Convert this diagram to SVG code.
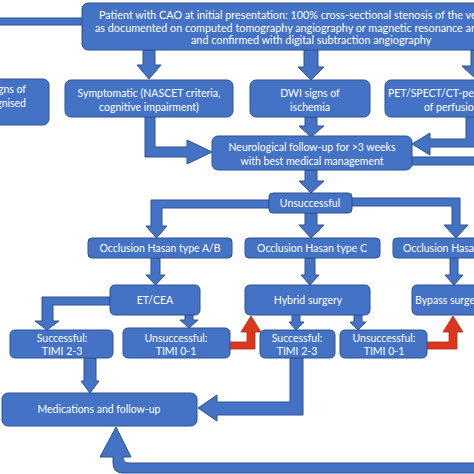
<svg xmlns="http://www.w3.org/2000/svg" width="474" height="474" viewBox="0 0 474 474">
<style>
.box{fill:#4472C4;stroke:#2F528F;stroke-width:1}
.arr{fill:#4472C4;stroke:#2F528F;stroke-width:1}
.red{fill:#D9381E;stroke:#B02A14;stroke-width:0.8}
text{font-family:Lato,"Liberation Sans",sans-serif;font-size:10.5px;fill:#FFFFFF}
.c{text-anchor:middle}
.t{font-size:10.8px}
</style>
<rect width="474" height="474" fill="#FFFFFF"/>
<g id="connectors">
<rect class="arr" x="-5" y="18" width="88" height="7"/>
<polygon class="arr" points="143,50 155,50 155,65 161,65 149,79 137,65 143,65"/>
<polygon class="arr" points="304,50 318,50 318,67 324,67 311,80 298,67 304,67"/>
<polygon class="arr" points="471,50 483,50 483,66 492,66 477,80 462,66 471,66"/>
<polygon class="arr" points="480,115 466,115 466,139 430,139 430,133 412,144 430,155 430,147 480,147"/>
<rect class="arr" x="412" y="157" width="70" height="8"/>
<polygon class="arr" points="145,117 155,117 155,147 187,147 187,140 212,152 187,164 187,157 145,157"/>
<polygon class="arr" points="305,117 317,117 317,126 324,126 311,137 299,126 305,126"/>
<polygon class="arr" points="305,170 317,170 317,181 324,181 311,193 299,181 305,181"/>
<polygon class="arr" points="269,200 151,200 151,226 146,226 156.5,238 167,226 162,226 162,208 269,208"/>
<polygon class="arr" points="352,198 460,198 460,225 468,225 456,238 444,225 452,225 452,206 352,206"/>
<polygon class="arr" points="305,213 317,213 317,225 324,225 311,238 299,225 305,225"/>
<polygon class="arr" points="151,258 160,258 160,275 165,275 155.5,285 146,275 151,275"/>
<polygon class="arr" points="305,258 315,258 315,275 319,275 310,285 301,275 305,275"/>
<polygon class="arr" points="450,258 458,258 458,275 463,275 454,285 445,275 450,275"/>
<polygon class="arr" points="110,297 42,297 42,321 35,321 47,330 59,321 53,321 53,305 110,305"/>
<polygon class="arr" points="185,315 193,315 193,320 198,320 189,328 180,320 185,320"/>
<polygon class="arr" points="292,315 300,315 300,322 304,322 296,330 289,322 292,322"/>
<polygon class="arr" points="354,315 362,315 362,322 366,322 358,330 350,322 354,322"/>
<polygon class="red" points="230,342 247,342 247,332 241,332 251,316 261,332 255,332 255,349 230,349"/>
<polygon class="red" points="427,342 449,342 449,332 443,332 453,316 463,332 457,332 457,349 427,349"/>
<polygon class="arr" points="84,358 96,358 96,381 99,381 90,393 81,381 84,381"/>
<polygon class="arr" points="290,358 303,358 303,415 217,415 217,421 198,408 217,395 217,402 290,402"/>
<path class="arr" d="M480,463 L129,463 Q123,463 123,457 L131,457 L116,427 L100,457 L113,457 L113,463 Q113,473 123,473 L480,473 Z"/>
</g>
<g id="n-top"><rect class="box" x="82" y="3" width="470" height="47" rx="6"/>
<text class="t" x="99" y="19">Patient with CAO at initial presentation: 100% cross-sectional stenosis of the vessel</text>
<text class="t" x="95" y="31.5">as documented on computed tomography angiography or magnetic resonance angiography</text>
<text class="t" x="191" y="44">and confirmed with digital subtraction angiography</text></g>
<g id="n-left"><rect class="box" x="-60" y="79" width="109" height="46" rx="6"/>
<text x="26" y="93" text-anchor="end">signs of</text>
<text x="26" y="107" text-anchor="end">recognised</text></g>
<g id="n-symptomatic"><rect class="box" x="65" y="80" width="168" height="37" rx="6"/>
<text class="c" x="149" y="97">Symptomatic (NASCET criteria,</text>
<text class="c" x="149" y="111">cognitive impairment)</text></g>
<g id="n-dwi"><rect class="box" x="250" y="80" width="120" height="37" rx="6"/>
<text class="c" x="310" y="97">DWI signs of</text>
<text class="c" x="310" y="111">ischemia</text></g>
<g id="n-pet"><rect class="box" x="385" y="80" width="150" height="37" rx="6"/>
<text x="388" y="97">PET/SPECT/CT-perfusion</text>
<text x="424" y="111">of perfusion</text></g>
<g id="n-neuro"><rect class="box" x="212" y="136" width="200" height="34" rx="6"/>
<text class="c" x="312" y="151">Neurological follow-up for &gt;3 weeks</text>
<text class="c" x="312" y="165">with best medical management</text></g>
<g id="n-unsuccessful"><rect class="box" x="269" y="193" width="83" height="20" rx="4"/>
<text class="c" x="310" y="207">Unsuccessful</text></g>
<g id="n-ab"><rect class="box" x="88" y="238" width="144" height="20" rx="4"/>
<text class="c" x="160" y="252">Occlusion Hasan type A/B</text></g>
<g id="n-c"><rect class="box" x="245" y="238" width="135" height="20" rx="4"/>
<text class="c" x="312" y="252">Occlusion Hasan type C</text></g>
<g id="n-d"><rect class="box" x="393" y="238" width="120" height="20" rx="4"/>
<text x="403" y="252">Occlusion Hasan type D</text></g>
<g id="n-etcea"><rect class="box" x="110" y="285" width="90" height="30" rx="5"/>
<text class="c" x="155" y="304">ET/CEA</text></g>
<g id="n-hybrid"><rect class="box" x="245" y="285" width="125" height="30" rx="5"/>
<text class="c" x="308" y="304">Hybrid surgery</text></g>
<g id="n-bypass"><rect class="box" x="412" y="285" width="100" height="30" rx="5"/>
<text x="415" y="304">Bypass surgery</text></g>
<g id="n-succ1"><rect class="box" x="10" y="330" width="103" height="28" rx="5"/>
<text class="c" x="62" y="342">Successful:</text>
<text class="c" x="62" y="355">TIMI 2-3</text></g>
<g id="n-uns1"><rect class="box" x="123" y="328" width="107" height="30" rx="5"/>
<text class="c" x="176" y="342">Unsuccessful:</text>
<text class="c" x="176" y="355">TIMI 0-1</text></g>
<g id="n-succ2"><rect class="box" x="260" y="330" width="75" height="28" rx="5"/>
<text class="c" x="297" y="342">Successful:</text>
<text class="c" x="297" y="355">TIMI 2-3</text></g>
<g id="n-uns2"><rect class="box" x="340" y="330" width="87" height="28" rx="5"/>
<text class="c" x="384" y="342">Unsuccessful:</text>
<text class="c" x="384" y="355">TIMI 0-1</text></g>
<g id="n-meds"><rect class="box" x="2" y="393" width="195" height="33" rx="6"/>
<text class="c" x="99" y="413">Medications and follow-up</text></g>
</svg>
